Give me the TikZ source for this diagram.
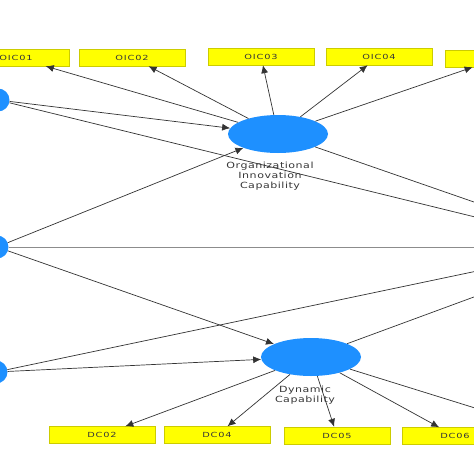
\documentclass[tikz,border=0pt]{standalone}
\usepackage{fontspec}
\usetikzlibrary{shapes.geometric,arrows.meta}
\newfontfamily\boxfont[FakeStretch=1.4,LetterSpace=12]{DejaVu Sans}
\newfontfamily\lblfont[FakeStretch=1.3,LetterSpace=6]{DejaVu Sans}
\definecolor{lvblue}{RGB}{30,144,255}
\definecolor{ind}{RGB}{255,255,0}
\definecolor{txt}{RGB}{55,55,55}
\tikzset{
  latent/.style={ellipse,fill=lvblue,draw=none,minimum width=100pt,minimum height=38pt,inner sep=0pt},
  exo/.style={circle,fill=lvblue,draw=none,minimum size=23pt,inner sep=0pt},
  indbox/.style={rectangle,fill=ind,draw=ind!80!black,line width=0.4pt,minimum width=106pt,minimum height=17pt,inner sep=0pt,font=\boxfont\fontsize{7}{8}\selectfont,text=txt},
  path/.style={draw=black!80,line width=0.7pt},
  arr/.style={path,-{Latex[length=8pt,width=7pt]}},
  lbl/.style={font=\lblfont\fontsize{8.5}{9.8}\selectfont,text=txt,align=center,inner sep=0pt}
}
\begin{document}
\begin{tikzpicture}[x=1pt,y=-1pt]
\clip (0,0) rectangle (474,474);
\fill[white] (0,0) rectangle (474,474);
% latent variables
\node[latent] (oic) at (278,134) {};
\node[latent] (dc) at (311,357) {};
\node[exo] (c1) at (-2,100) {};
\node[exo] (c2) at (-3,247) {};
\node[exo] (c3) at (-4,372) {};
% labels
\node[lbl] (oiclbl) at (270,176) {Organizational\\Innovation\\Capability};
\node[lbl] (dclbl) at (305,395) {Dynamic\\Capability};
% indicator boxes
\node[indbox] (oic01) at (16,57.5) {OIC01};
\node[indbox] (oic02) at (132,57.5) {OIC02};
\node[indbox] (oic03) at (261,56.5) {OIC03};
\node[indbox] (oic04) at (379,56.5) {OIC04};
\node[indbox] (oic05) at (498,58.5) {};
\node[indbox] (dc02) at (102,435) {DC02};
\node[indbox] (dc04) at (217,435) {DC04};
\node[indbox] (dc05) at (337,435.5) {DC05};
\node[indbox] (dc06) at (455,436) {DC06};
% off-picture ends
\coordinate (rA) at (520,218);
\coordinate (rB) at (520,228);
\coordinate (rC) at (520,247);
\coordinate (rD) at (520,262);
\coordinate (rE) at (520,280);
\coordinate (rF) at (520,422);
% outer loadings
\draw[arr] (oic) -- (oic01);
\draw[arr] (oic) -- (oic02);
\draw[arr] (oic) -- (oic03);
\draw[arr] (oic) -- (oic04);
\draw[arr] (oic) -- (oic05);
\draw[arr] (dc) -- (dc02);
\draw[arr] (dc) -- (dc04);
\draw[arr] (dc) -- (dc05);
\draw[arr] (dc) -- (dc06);
% inner paths
\draw[arr] (c1) -- (oic);
\draw[arr] (c2) -- (oic);
\draw[arr] (c2) -- (dc);
\draw[arr] (c3) -- (dc);
\draw[path] (oic) -- (rA);
\draw[path] (c1) -- (rB);
\draw[draw=black!45,line width=0.5pt] (c2) -- (rC);
\draw[path] (c3) -- (rD);
\draw[path] (dc) -- (rE);
\draw[path] (dc) -- (rF);
\end{tikzpicture}
\end{document}
